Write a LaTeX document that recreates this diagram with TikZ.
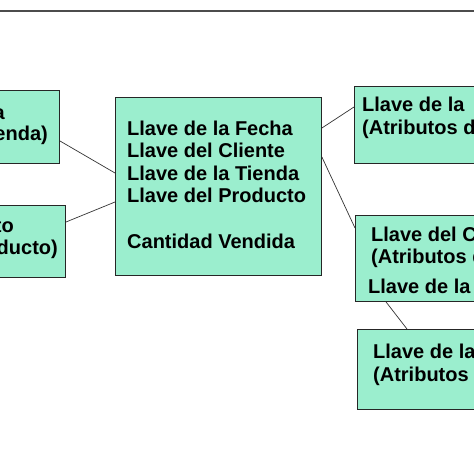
\documentclass[tikz,border=0pt]{standalone}
\usepackage{fontspec}
\setmainfont{Liberation Sans}
\usepackage{xcolor}
\usetikzlibrary{positioning}
\definecolor{menta}{RGB}{155,238,206}
\tikzset{
	tabla/.style={draw=black!85,fill=menta,line width=0.9pt,inner sep=0pt},
	texto/.style={font=\bfseries\fontsize{20}{22.6}\selectfont,align=left,inner sep=0pt},
	enlace/.style={draw=black!80,line width=0.7pt}
}

\begin{document}
\begin{tikzpicture}[x=1pt,y=-1pt]
	\clip (0,0) rectangle (474,474);
	\fill[white] (0,0) rectangle (474,474);
	\draw[black!70,line width=1.3pt] (0,11) -- (474,11);
	% tablas
	\node[tabla,anchor=north east,minimum width=75pt,minimum height=73pt] (tienda) at (60,90) {};
	\node[tabla,anchor=north east,minimum width=80pt,minimum height=72pt] (producto) at (66,205) {};
	\node[tabla,anchor=north west,minimum width=206pt,minimum height=178pt] (hechos) at (115,97) {};
	\node[tabla,anchor=north west,minimum width=130pt,minimum height=77pt] (fecha) at (354,86) {};
	\node[tabla,anchor=north west,minimum width=130pt,minimum height=86pt] (cliente) at (355,215) {};
	\node[tabla,anchor=north west,minimum width=130pt,minimum height=80pt] (subdim) at (357,329) {};
	% textos (base = ultima linea)
	\node[texto,anchor=base east] (t1) at (5,119.5) {a};
	\node[texto,anchor=base east] (t2) at (48,140.5) {enda)};
	\node[texto,anchor=base east] (p1) at (14,232.5) {to};
	\node[texto,anchor=base east] (p2) at (58,254) {ducto)};
	\node[texto,anchor=base west] (h1) at (127,248) {Llave de la Fecha\\Llave del Cliente\\Llave de la Tienda\\Llave del Producto\\ \\Cantidad Vendida};
	\node[texto,anchor=base west] (f1) at (362,134.1) {Llave de la\\(Atributos d};
	\node[texto,anchor=base west] (c1) at (371,263.6) {Llave del C\\(Atributos d};
	\node[texto,anchor=base west] (c2) at (368,293) {Llave de la};
	\node[texto,anchor=base west] (s1) at (373,381.1) {Llave de la\\(Atributos d};
	% enlaces
	\draw[enlace] ([yshift=-51pt]tienda.north east) -- ([yshift=-76pt]hechos.north west);
	\draw[enlace] ([yshift=-17pt]producto.north east) -- ([yshift=-105pt]hechos.north west);
	\draw[enlace] ([yshift=-31pt]hechos.north east) -- ([yshift=-21pt]fecha.north west);
	\draw[enlace] ([yshift=-60pt]hechos.north east) -- ([yshift=-13pt]cliente.north west);
	\draw[enlace] ([xshift=31pt]cliente.south west) -- ([xshift=50pt]subdim.north west);
\end{tikzpicture}
\end{document}
